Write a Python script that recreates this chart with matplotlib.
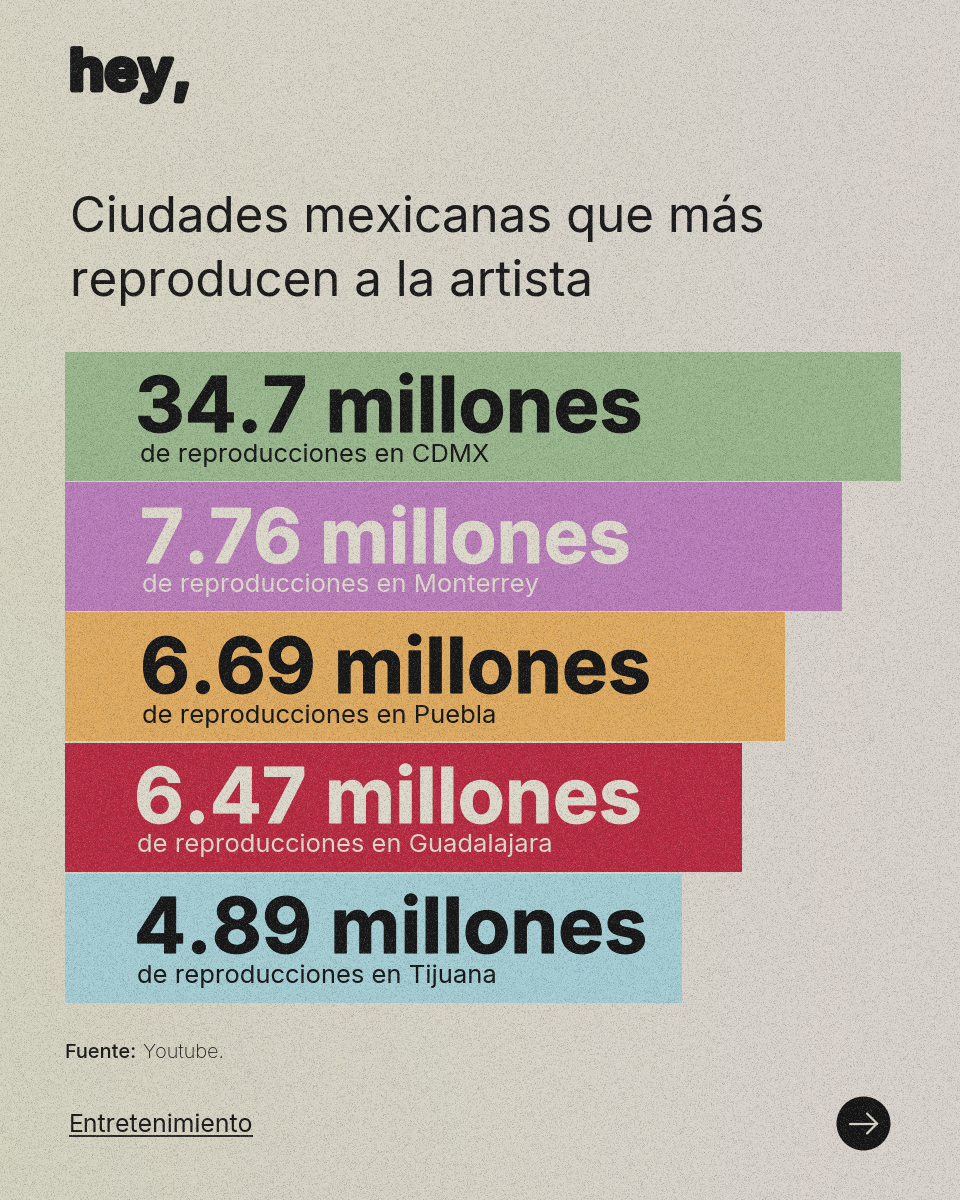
import matplotlib
matplotlib.use("Agg")
import matplotlib.pyplot as plt
import matplotlib.patheffects as pe
import numpy as np
from matplotlib.patches import Circle

W, H = 960, 1200
PX = 0.72  # font points per pixel at dpi 100

# bar lengths, they are not proportional to the figures
bar_lengths = [836, 777, 720, 677, 617]
amounts = ["34.7 millones", "7.76 millones", "6.69 millones", "6.47 millones", "4.89 millones"]
cities = ["CDMX", "Monterrey", "Puebla", "Guadalajara", "Tijuana"]
bar_colors = ["#98b58c", "#b87cb8", "#dda95f", "#b62a41", "#a3ccd3"]
text_colors = ["#171717", "#dcd9cb", "#171717", "#dcd9cb", "#171717"]

INK = "#1a1a1a"
tops = [352, 482, 612, 743, 874]
heights = [129, 129, 129, 129, 129]
big_x = [135, 140, 140, 134, 134]
big_base = [432, 563, 693, 823, 953]
big_size = [77, 75.5, 77, 77, 77]
small_x = [140, 142, 142, 137, 137]
small_base = [462, 592, 723, 852, 983]

plt.rcParams["font.family"] = ["Inter", "Liberation Sans", "DejaVu Sans"]


def background():
    # soft corner to corner tint, then the paper colour is left to the grain layer
    corners = np.array([[[215, 212, 195], [216, 210, 204]],
                        [[211, 209, 190], [217, 211, 206]]], dtype=float)
    v, u = np.mgrid[0:1:H * 1j, 0:1:W * 1j]
    u = u[..., None]
    v = v[..., None]
    return ((1 - v) * ((1 - u) * corners[0, 0] + u * corners[0, 1])
            + v * ((1 - u) * corners[1, 0] + u * corners[1, 1])) / 255


def grain(rng):
    # speckle over everything, like the print texture
    noise = rng.normal(0, 1, (H, W))
    rgba = np.zeros((H, W, 4))
    rgba[..., :3] = (noise > 0)[..., None]
    rgba[..., 3] = np.clip(np.abs(noise) * 0.06, 0, 0.25)
    return rgba


def main():
    rng = np.random.default_rng(3)
    fig = plt.figure(figsize=(W / 100, H / 100), dpi=100)
    ax = fig.add_axes([0, 0, 1, 1])
    ax.set_xlim(0, W)
    ax.set_ylim(H, 0)
    ax.axis("off")
    ax.imshow(background(), extent=(0, W, H, 0), aspect="auto", zorder=0)

    ax.barh(tops, bar_lengths, height=heights, left=65, align="edge", color=bar_colors, zorder=1)

    for i in range(len(amounts)):
        t = ax.text(big_x[i], big_base[i], amounts[i], fontsize=big_size[i] * PX, fontweight="bold",
                    color=text_colors[i], va="baseline", ha="left", zorder=2)
        t.set_path_effects([pe.withStroke(linewidth=0.8, foreground=text_colors[i])])
        ax.text(small_x[i], small_base[i], "de reproducciones en " + cities[i], fontsize=25.6 * PX,
                color=text_colors[i], va="baseline", ha="left", zorder=2)

    # logo
    logo = ax.text(69, 90, "hey,", fontsize=57 * PX, fontweight="bold", color=INK, va="baseline", zorder=2)
    logo.set_path_effects([pe.withStroke(linewidth=3.5, foreground=INK)])

    ax.text(70, 232, "Ciudades mexicanas que más", fontsize=49.3 * PX, color=INK, va="baseline", zorder=2)
    ax.text(70, 296, "reproducen a la artista", fontsize=49.3 * PX, color=INK, va="baseline", zorder=2)

    ax.text(64, 1058, "Fuente:", fontsize=20 * PX, fontweight="medium", color=INK, va="baseline", zorder=2)
    ax.text(142, 1058, "Youtube.", fontsize=20 * PX, fontweight="light", color=INK, va="baseline", zorder=2)

    ax.text(69, 1132, "Entretenimiento", fontsize=24.8 * PX, color=INK, va="baseline", zorder=2)
    ax.plot([69, 253], [1136, 1136], color=INK, lw=1.3, zorder=2, solid_capstyle="butt")

    ax.add_patch(Circle((863.5, 1123.5), 27, facecolor="#151515", edgecolor="none", zorder=2))
    ax.plot([850, 877], [1123.5, 1123.5], color="#d8d4c8", lw=1.6, zorder=3, solid_capstyle="round")
    ax.plot([867, 877, 867], [1113.5, 1123.5, 1133.5], color="#d8d4c8", lw=1.6, zorder=3,
            solid_capstyle="round", solid_joinstyle="miter")

    ax.imshow(grain(rng), extent=(0, W, H, 0), aspect="auto", zorder=5, interpolation="nearest")
    ax.set_xlim(0, W)
    ax.set_ylim(H, 0)

    fig.savefig("out.png", dpi=100)
    plt.close(fig)


if __name__ == "__main__":
    main()
